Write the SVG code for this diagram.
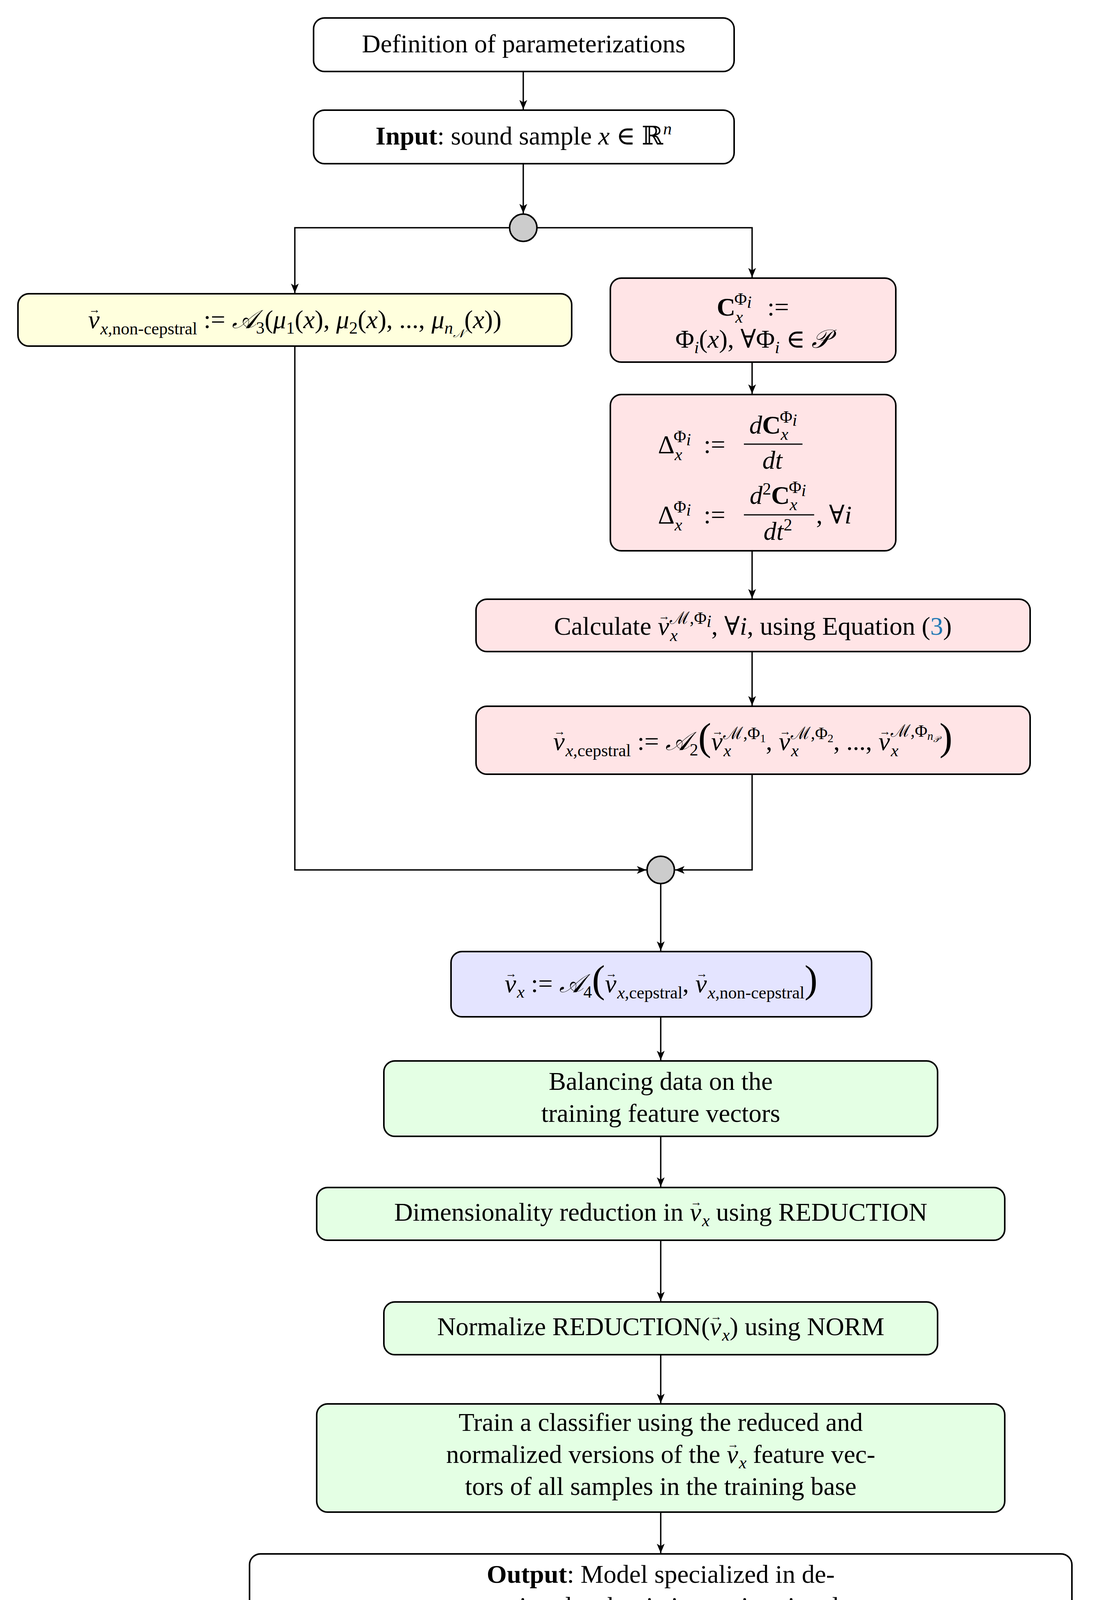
<svg xmlns="http://www.w3.org/2000/svg" width="2799" height="4225" viewBox="0 0 2799 4225">
<style>
.b{stroke:#000;stroke-width:4}
text{font-family:"Liberation Serif","DejaVu Serif",serif;font-size:66px;fill:#000;text-anchor:middle}
.i{font-style:italic}
.s{font-size:44px}
.c{stroke:#000;stroke-width:3.5;fill:none}
.ar{font-size:30px;font-style:normal}
</style>
<defs>
<marker id="m" markerWidth="26" markerHeight="26" refX="24" refY="13" orient="auto" markerUnits="userSpaceOnUse"><path d="M0,3 L24,13 L0,23 L6,13 Z" fill="#000"/></marker></defs>
<g id="connectors">
<path class="c" d="M1340,183 V280" marker-end="url(#m)"/>
<path class="c" d="M1340,419 V546" marker-end="url(#m)"/>
<path class="c" d="M1305,583 H755 V750" marker-end="url(#m)"/>
<path class="c" d="M1375,583 H1926 V710" marker-end="url(#m)"/>
<path class="c" d="M1926,927 V1008" marker-end="url(#m)"/>
<path class="c" d="M1926,1410 V1532" marker-end="url(#m)"/>
<path class="c" d="M1926,1668 V1806" marker-end="url(#m)"/>
<path class="c" d="M755,886 V2227 H1655" marker-end="url(#m)"/>
<path class="c" d="M1926,1982 V2227 H1729" marker-end="url(#m)"/>
<path class="c" d="M1692,2262 V2434" marker-end="url(#m)"/>
<path class="c" d="M1692,2603 V2714" marker-end="url(#m)"/>
<path class="c" d="M1692,2909 V3038" marker-end="url(#m)"/>
<path class="c" d="M1692,3175 V3331" marker-end="url(#m)"/>
<path class="c" d="M1692,3468 V3592" marker-end="url(#m)"/>
<path class="c" d="M1692,3871 V3976" marker-end="url(#m)"/>
</g>
<g id="n1"><rect class="b" x="803" y="46" width="1077" height="137" rx="28" fill="#fff"/><text x="1341" y="134">Definition of parameterizations</text></g>
<g id="n2"><rect class="b" x="803" y="282" width="1077" height="137" rx="28" fill="#fff"/><text x="1341" y="370"><tspan font-weight="bold">Input</tspan>: sound sample <tspan class="i">x</tspan> ∈ ℝ<tspan class="s i" dy="-26">n</tspan></text></g>
<g id="j1"><circle class="b" cx="1340" cy="583" r="35" fill="#ccc"/></g>
<g id="n3"><rect class="b" x="46" y="752" width="1418" height="134" rx="28" fill="#ffffdd"/><text x="755" y="840"><tspan class="i">v</tspan><tspan class="ar" dx="-28" dy="-38">→</tspan><tspan class="s" dy="54"><tspan class="i">x</tspan>,non-cepstral</tspan><tspan dy="-16"> := </tspan><tspan class="i">𝒜</tspan><tspan class="s" dy="14">3</tspan><tspan dy="-14">(</tspan><tspan class="i">μ</tspan><tspan class="s" dy="14">1</tspan><tspan dy="-14">(</tspan><tspan class="i">x</tspan>), <tspan class="i">μ</tspan><tspan class="s" dy="14">2</tspan><tspan dy="-14">(</tspan><tspan class="i">x</tspan>), ..., <tspan class="i">μ</tspan><tspan class="s i" dy="14">n</tspan><tspan class="i" font-size="30" dy="10">𝒩</tspan><tspan dy="-24">(</tspan><tspan class="i">x</tspan>))</text></g>
<g id="n4"><rect class="b" x="1563" y="712" width="731" height="215" rx="28" fill="#ffe4e6"/><text x="1928" y="808"><tspan font-weight="bold">C</tspan><tspan class="s i" dy="18">x</tspan><tspan class="s" dx="-22" dy="-46">Φ</tspan><tspan class="s i" font-size="30" dy="8">i</tspan><tspan dy="20" dx="40">:=</tspan></text><text x="1928" y="890"><tspan>Φ</tspan><tspan class="s i" dy="14">i</tspan><tspan dy="-14">(</tspan><tspan class="i">x</tspan>), ∀Φ<tspan class="s i" dy="14">i</tspan><tspan dy="-14"> ∈ </tspan><tspan class="i">𝒫</tspan></text></g>
<g id="n5"><rect class="b" x="1563" y="1010" width="731" height="400" rx="28" fill="#ffe4e6"/>
<text x="1685" y="1160" style="text-anchor:start">Δ<tspan class="s i" dy="18">x</tspan><tspan class="s" dx="-22" dy="-46">Φ</tspan><tspan class="s i" font-size="30" dy="8">i</tspan><tspan dy="20" dx="16"> :=</tspan></text>
<text x="1980" y="1110"><tspan class="i">d</tspan><tspan font-weight="bold">C</tspan><tspan class="s i" dy="16">x</tspan><tspan class="s" dx="-22" dy="-44">Φ</tspan><tspan class="s i" font-size="30" dy="8">i</tspan></text>
<line x1="1905" y1="1137" x2="2055" y2="1137" stroke="#000" stroke-width="3"/>
<text x="1978" y="1200" class="i">dt</text>
<text x="1685" y="1340" style="text-anchor:start">Δ<tspan class="s i" dy="18">x</tspan><tspan class="s" dx="-22" dy="-46">Φ</tspan><tspan class="s i" font-size="30" dy="8">i</tspan><tspan dy="20" dx="16"> :=</tspan></text>
<text x="1992" y="1290"><tspan class="i">d</tspan><tspan class="s" dy="-24">2</tspan><tspan font-weight="bold" dy="24">C</tspan><tspan class="s i" dy="16">x</tspan><tspan class="s" dx="-22" dy="-44">Φ</tspan><tspan class="s i" font-size="30" dy="8">i</tspan></text>
<line x1="1905" y1="1318" x2="2085" y2="1318" stroke="#000" stroke-width="3"/>
<text x="1992" y="1382"><tspan class="i">dt</tspan><tspan class="s" dy="-24">2</tspan></text>
<text x="2090" y="1340" style="text-anchor:start">, ∀<tspan class="i">i</tspan></text></g>
<g id="n6"><rect class="b" x="1219" y="1534" width="1419" height="134" rx="28" fill="#ffe4e6"/><text x="1928" y="1625">Calculate <tspan class="i">v</tspan><tspan class="ar" dx="-28" dy="-38">→</tspan><tspan class="s i" dy="54">x</tspan><tspan class="s" dx="-20" dy="-44">ℳ,Φ</tspan><tspan class="s i" font-size="30" dy="8">i</tspan><tspan dy="20">, ∀</tspan><tspan class="i">i</tspan>, using Equation (<tspan fill="#1f77b4">3</tspan>)</text></g>
<g id="n7"><rect class="b" x="1219" y="1808" width="1419" height="174" rx="28" fill="#ffe4e6"/><text x="1928" y="1920"><tspan class="i">v</tspan><tspan class="ar" dx="-28" dy="-38">→</tspan><tspan class="s" dy="54"><tspan class="i">x</tspan>,cepstral</tspan><tspan dy="-16"> := </tspan><tspan class="i">𝒜</tspan><tspan class="s" dy="14">2</tspan><tspan dy="-14" font-size="100">(</tspan><tspan class="i">v</tspan><tspan class="ar" dx="-28" dy="-38">→</tspan><tspan class="s i" dy="54">x</tspan><tspan class="s" dx="-20" dy="-44">ℳ,Φ</tspan><tspan font-size="30" dy="8">1</tspan><tspan dy="20">, </tspan><tspan class="i">v</tspan><tspan class="ar" dx="-28" dy="-38">→</tspan><tspan class="s i" dy="54">x</tspan><tspan class="s" dx="-20" dy="-44">ℳ,Φ</tspan><tspan font-size="30" dy="8">2</tspan><tspan dy="20">, ..., </tspan><tspan class="i">v</tspan><tspan class="ar" dx="-28" dy="-38">→</tspan><tspan class="s i" dy="54">x</tspan><tspan class="s" dx="-20" dy="-50">ℳ,Φ</tspan><tspan class="i" font-size="30" dy="8">n</tspan><tspan class="i" font-size="22" dy="6">𝒫</tspan><tspan dy="20" font-size="100">)</tspan></text></g>
<g id="j2"><circle class="b" cx="1692" cy="2227" r="35" fill="#ccc"/></g>
<g id="n8"><rect class="b" x="1155" y="2436" width="1077" height="167" rx="28" fill="#e4e4ff"/><text x="1693" y="2540"><tspan class="i">v</tspan><tspan class="ar" dx="-28" dy="-38">→</tspan><tspan class="s i" dy="52">x</tspan><tspan dy="-14"> := </tspan><tspan class="i">𝒜</tspan><tspan class="s" dy="14">4</tspan><tspan dy="-14" font-size="100">(</tspan><tspan class="i">v</tspan><tspan class="ar" dx="-28" dy="-38">→</tspan><tspan class="s" dy="54"><tspan class="i">x</tspan>,cepstral</tspan><tspan dy="-16">, </tspan><tspan class="i">v</tspan><tspan class="ar" dx="-28" dy="-38">→</tspan><tspan class="s" dy="54"><tspan class="i">x</tspan>,non-cepstral</tspan><tspan dy="-16" font-size="100">)</tspan></text></g>
<g id="n9"><rect class="b" x="983" y="2716" width="1418" height="193" rx="28" fill="#e4ffe4"/><text x="1692" y="2790">Balancing data on the</text><text x="1692" y="2872">training feature vectors</text></g>
<g id="n10"><rect class="b" x="811" y="3040" width="1762" height="135" rx="28" fill="#e4ffe4"/><text x="1692" y="3125">Dimensionality reduction in <tspan class="i">v</tspan><tspan class="ar" dx="-28" dy="-38">→</tspan><tspan class="s i" dy="52">x</tspan><tspan dy="-14"> using REDUCTION</tspan></text></g>
<g id="n11"><rect class="b" x="983" y="3333" width="1418" height="135" rx="28" fill="#e4ffe4"/><text x="1692" y="3418">Normalize REDUCTION(<tspan class="i">v</tspan><tspan class="ar" dx="-28" dy="-38">→</tspan><tspan class="s i" dy="52">x</tspan><tspan dy="-14">) using NORM</tspan></text></g>
<g id="n12"><rect class="b" x="811" y="3594" width="1762" height="277" rx="28" fill="#e4ffe4"/><text x="1692" y="3663">Train a classifier using the reduced and</text><text x="1692" y="3745">normalized versions of the <tspan class="i">v</tspan><tspan class="ar" dx="-28" dy="-38">→</tspan><tspan class="s i" dy="52">x</tspan><tspan dy="-14"> feature vec-</tspan></text><text x="1692" y="3827">tors of all samples in the training base</text></g>
<g id="n13"><rect class="b" x="639" y="3978" width="2106" height="193" rx="28" fill="#fff"/><text x="1692" y="4052"><tspan font-weight="bold">Output</tspan>: Model specialized in de-</text><text x="1692" y="4134">tecting dysphonia in a voice signal</text></g>
</svg>
